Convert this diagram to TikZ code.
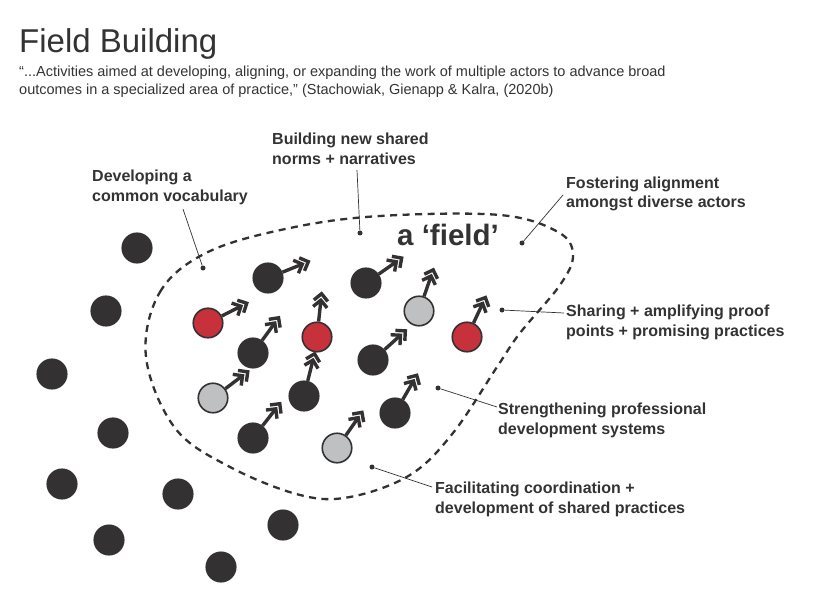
\documentclass[tikz,border=0pt]{standalone}
\usepackage{fontspec}
\setmainfont{Liberation Sans}
\usetikzlibrary{arrows.meta,positioning}

\definecolor{ink}{HTML}{333132}
\definecolor{actorred}{HTML}{C7313B}
\definecolor{actorgray}{HTML}{BFC0C2}
\definecolor{textgray}{HTML}{333333}

\begin{document}
\begin{tikzpicture}[x=1pt,y=-1pt,
  actor/.style={circle,draw=ink,line width=1.6pt,fill=#1,minimum size=29.5pt,inner sep=0pt},
  actor/.default=ink,
  move/.style={draw=ink,line width=3.4pt},
  chevron/.style={draw=ink,line width=3.4pt,miter limit=4},
  leader/.style={draw=ink,line width=0.7pt},
  pin/.style={circle,fill=ink,inner sep=0pt,minimum size=5pt},
  lbl/.style={font=\fontsize{16}{20}\selectfont\bfseries,text=textgray,align=left,anchor=base west,inner sep=0pt}]
  \useasboundingbox (0,0) rectangle (837,612);

  % heading
  \node[font=\fontsize{33}{33}\selectfont,text=textgray,anchor=base west,inner sep=0pt] (title) at (19,53) {Field Building};
  \node[font=\fontsize{14.5}{18}\selectfont,text=textgray,align=left,anchor=base west,inner sep=0pt] (quote) at (19,95)
    {“...Activities aimed at developing, aligning, or expanding the work of multiple actors to advance broad\\
     outcomes in a specialized area of practice,” (Stachowiak, Gienapp \& Kalra, (2020b)};

  % the field boundary
  \draw[ink,line width=2.3pt,dash pattern=on 7pt off 5.5pt] plot[smooth cycle,tension=0.6] coordinates
    {(146,357) (160,292) (208,252) (290,228) (380,216) (500,215) (558,232) (573,255) (560,285)
     (520,333) (497,367) (453,433) (410,475) (350,497) (300,495) (230,467) (175,428)};
  \node[font=\fontsize{29.5}{30}\selectfont\bfseries,text=textgray,anchor=base west,inner sep=0pt] (field) at (397,245) {a ‘field’};

  % actors outside the field
  \foreach \x/\y [count=\i] in {137/248,106/311,52/374,113/433,62/484,178/494,109/540,283/525,221/567}
    \node[actor] (out\i) at (\x,\y) {};

  % actors inside the field, each moving
  \foreach \x/\y/\c/\a [count=\i] in {268/278/ink/22,366/283/ink/35,208/323/actorred/27,253/353/ink/54,
      317/337/actorred/84,419/311/actorgray/71,467/337/actorred/65,373/360/ink/42,213/398/actorgray/37,
      304/396/ink/76,395/413/ink/60,253/438/ink/52,337/448/actorgray/55} {
    \node[actor=\c] (in\i) at (\x,\y) {};
    \draw[move] (in\i.\a) -- ++(-\a:21);
    \begin{scope}[shift={(\x,\y)},rotate=\a]
      \draw[chevron] (30,-7) -- (37,0) -- (30,7);
      \draw[chevron] (36.5,-7) -- (43.5,0) -- (36.5,7);
    \end{scope}
  }

  % labels
  \node[lbl] (vocab) at (92,202) {Developing a\\common vocabulary};
  \node[lbl] (norms) at (272,165) {Building new shared\\norms + narratives};
  \node[lbl] (align) at (566,208) {Fostering alignment\\amongst diverse actors};
  \node[lbl] (proof) at (566,336) {Sharing + amplifying proof\\points + promising practices};
  \node[lbl] (prodev) at (498,434) {Strengthening professional\\development systems};
  \node[lbl] (coord) at (435,513) {Facilitating coordination +\\development of shared practices};

  \node[pin] (vocabpin) at (203,268) {};
  \node[pin] (normspin) at (360,233) {};
  \node[pin] (alignpin) at (522,243) {};
  \node[pin] (proofpin) at (502,310) {};
  \node[pin] (prodevpin) at (438,388) {};
  \node[pin] (coordpin) at (372,467) {};

  \coordinate (vocabend) at (183,209);
  \coordinate (normsend) at (357,170);
  \coordinate (alignend) at (563,195);
  \coordinate (proofend) at (564,313);
  \coordinate (prodevend) at (497,407);
  \coordinate (coordend) at (432,487);

  \draw[leader] (vocabpin) -- (vocabend);
  \draw[leader] (normspin) -- (normsend);
  \draw[leader] (alignpin) -- (alignend);
  \draw[leader] (proofpin) -- (proofend);
  \draw[leader] (prodevpin) -- (prodevend);
  \draw[leader] (coordpin) -- (coordend);
\end{tikzpicture}
\end{document}
